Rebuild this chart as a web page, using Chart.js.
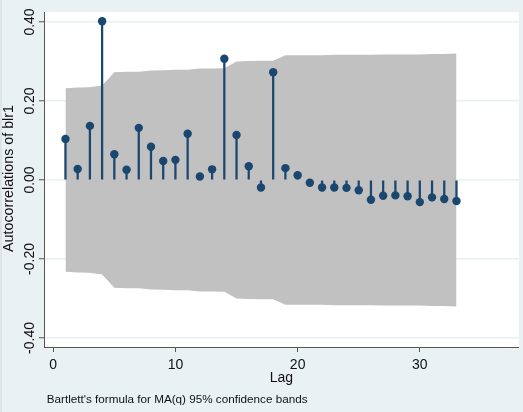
<!DOCTYPE html>
<html>
<head>
<meta charset="utf-8">
<script src="https://cdn.jsdelivr.net/npm/chart.js@4/dist/chart.umd.min.js"></script>
<style>
  html, body { margin: 0; padding: 0; background: #eaf1f3; }
  #wrap { width: 523px; height: 412px; }
</style>
</head>
<body>
<div id="wrap"><canvas id="c" width="523" height="412"></canvas></div>
<script>
const lags = [1,2,3,4,5,6,7,8,9,10,11,12,13,14,15,16,17,18,19,20,21,22,23,24,25,26,27,28,29,30,31,32,33];
const acf = [0.104,0.028,0.137,0.402,0.065,0.026,0.132,0.084,0.048,0.051,0.117,0.009,0.027,0.307,0.114,0.035,-0.019,
             0.273,0.030,0.012,-0.007,-0.019,-0.019,-0.020,-0.026,-0.050,-0.040,-0.039,-0.041,-0.056,-0.044,-0.048,-0.053];
const bandUpper = [0.232,0.234,0.235,0.239,0.273,0.274,0.274,0.277,0.278,0.279,0.279,0.282,0.282,0.283,0.300,0.301,0.302,
                   0.302,0.316,0.316,0.316,0.316,0.317,0.317,0.317,0.317,0.318,0.318,0.318,0.318,0.319,0.319,0.320];
const bandLower = [-0.232,-0.234,-0.235,-0.239,-0.273,-0.274,-0.274,-0.277,-0.278,-0.279,-0.279,-0.282,-0.282,-0.283,-0.300,-0.301,-0.302,
                   -0.302,-0.316,-0.316,-0.316,-0.316,-0.317,-0.317,-0.317,-0.317,-0.318,-0.318,-0.318,-0.318,-0.319,-0.319,-0.320];
const yTickValues = [-0.4,-0.2,0,0.2,0.4];
const yTickLabels = ["-0.40","-0.20","0.00","0.20","0.40"];
const xTickValues = [0,10,20,30];
const yTitle = "Autocorrelations of blr1";
const xTitle = "Lag";
const note = "Bartlett's formula for MA(q) 95% confidence bands";

const NAVY = '#1a476f';
const FONT = '"Liberation Sans", Arial, sans-serif';

const decor = {
  id: 'decor',
  beforeDraw(chart) {
    const {ctx, chartArea: a} = chart;
    ctx.save();
    ctx.fillStyle = '#eaf1f3';
    ctx.fillRect(0, 0, chart.width, chart.height);
    ctx.fillStyle = '#dce4e7';
    ctx.fillRect(0, 0, 2, chart.height);
    ctx.fillStyle = '#ffffff';
    ctx.fillRect(a.left, a.top, a.right - a.left, a.bottom - a.top);
    ctx.restore();
  },
  afterDraw(chart) {
    const {ctx} = chart;
    const ys = chart.scales.y;
    ctx.save();
    ctx.fillStyle = '#111';
    ctx.font = '14px ' + FONT;
    ctx.textAlign = 'center';
    ctx.textBaseline = 'alphabetic';
    yTickValues.forEach((v, i) => {
      const py = ys.getPixelForValue(v);
      ctx.save();
      ctx.translate(33.5, py);
      ctx.rotate(-Math.PI / 2);
      ctx.fillText(yTickLabels[i], 0, 0);
      ctx.restore();
    });
    ctx.save();
    ctx.font = '14.3px ' + FONT;
    ctx.translate(13, (chart.chartArea.top + chart.chartArea.bottom) / 2 - 1);
    ctx.rotate(-Math.PI / 2);
    ctx.fillText(yTitle, 0, 0);
    ctx.restore();
    ctx.font = '11.7px ' + FONT;
    ctx.textAlign = 'left';
    ctx.fillText(note, 46.7, 402.5);
    ctx.restore();
  }
};

new Chart(document.getElementById('c'), {
  type: 'line',
  data: {
    datasets: [
      {
        type: 'line',
        data: lags.map((l, i) => ({x: l, y: bandUpper[i]})),
        fill: '+1',
        backgroundColor: '#c1c1c1',
        borderWidth: 0,
        pointRadius: 0,
        tension: 0,
        order: 3
      },
      {
        type: 'line',
        data: lags.map((l, i) => ({x: l, y: bandLower[i]})),
        fill: false,
        borderWidth: 0,
        pointRadius: 0,
        tension: 0,
        order: 3
      },
      {
        type: 'bar',
        data: lags.map((l, i) => ({x: l, y: acf[i]})),
        backgroundColor: NAVY,
        borderWidth: 0,
        barThickness: 1.6,
        order: 2
      },
      {
        type: 'line',
        data: lags.map((l, i) => ({x: l, y: acf[i]})),
        showLine: false,
        pointRadius: 4.2,
        pointBackgroundColor: NAVY,
        pointBorderWidth: 0,
        order: 1
      }
    ]
  },
  options: {
    responsive: false,
    animation: false,
    layout: { padding: { top: 12, right: 1, left: 0, bottom: 0 } },
    plugins: { legend: { display: false }, tooltip: { enabled: false } },
    scales: {
      x: {
        type: 'linear',
        min: -0.756,
        max: 38.1,
        offset: false,
        afterBuildTicks: s => { s.ticks = xTickValues.map(v => ({value: v})); },
        afterFit: s => { s.height = 65; },
        ticks: {
          color: '#111',
          font: { family: FONT, size: 14 },
          padding: 5,
          maxRotation: 0,
          callback: v => String(v)
        },
        grid: { offset: false, drawOnChartArea: false, tickLength: 5, tickColor: '#555', tickWidth: 1 },
        border: { color: '#555', width: 1 },
        title: {
          display: true,
          text: xTitle,
          color: '#111',
          font: { family: FONT, size: 14, lineHeight: 1 },
          padding: { top: 0, bottom: 27 }
        }
      },
      y: {
        type: 'linear',
        min: -0.4228,
        max: 0.4253,
        afterBuildTicks: s => { s.ticks = yTickValues.map(v => ({value: v})); },
        afterFit: s => { s.width = 44; },
        ticks: { display: false },
        grid: { offset: false, color: '#e8f0f2', lineWidth: 1.5, tickLength: 5, tickColor: '#555', tickWidth: 1 },
        border: { color: '#555', width: 1 }
      }
    }
  },
  plugins: [decor]
});
</script>
</body>
</html>
